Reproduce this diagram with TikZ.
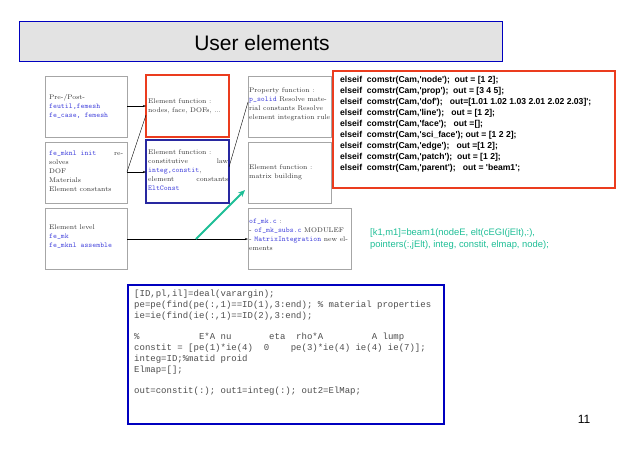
\documentclass[tikz,border=0pt]{standalone}
\usepackage{fontspec}
\newfontfamily\sansf{Liberation Sans}
\newfontfamily\monof{Liberation Mono}
\usetikzlibrary{arrows.meta}
\definecolor{codeblue}{RGB}{70,70,220}
\definecolor{lredc}{RGB}{235,60,30}
\definecolor{dblue}{RGB}{40,40,160}
\definecolor{greent}{RGB}{30,190,150}
\newcommand{\cb}[1]{\textcolor{codeblue}{\ttfamily\fontsize{7.4}{8}\selectfont #1}}
\tikzset{
  gbox/.style={draw=gray!70,line width=0.6pt},
  btxt/.style={anchor=north west,font=\fontsize{6.8}{9}\selectfont,text width=#1,align=justify,inner sep=0pt,text=black!80},
  conn/.style={-{Stealth[length=3pt,width=2pt]},line width=0.4pt},
}
\begin{document}
\begin{tikzpicture}[x=1pt,y=-1pt]
\useasboundingbox (0,0) rectangle (638,451);
% title
\node[draw=blue!75!black,line width=1.2pt,fill=gray!22,minimum width=483pt,minimum height=40pt,inner sep=0pt] (title) at (261,41.5) {};
\node (tt) at (262,43) {\sansf\fontsize{21}{24}\selectfont User elements};
% left boxes
\draw[gbox] (45,76) rectangle (127,137);
\node[btxt=76pt] (a) at (49,94) {Pre-/Post-\\\cb{feutil,femesh}\\\cb{fe\_case, femesh}};
\coordinate (aR) at (127,106);
\draw[gbox] (45,142) rectangle (127,203);
\node[btxt=74pt] (b) at (49,151) {\cb{fe\_mknl init} \hfill re-\\solves\\DOF\\Materials\\Element constants};
\coordinate (bR) at (127,172);
\draw[gbox] (45,208) rectangle (127,269);
\node[btxt=76pt] (c) at (49,225) {Element level\\\cb{fe\_mk}\\\cb{fe\_mknl assemble}};
\coordinate (cR) at (127,239);
% middle boxes
\draw[draw=lredc,line width=1.6pt] (146,75) rectangle (229,137);
\node[btxt=80pt] (r) at (148,99) {Element function :\\nodes, face, DOFs, ...};
\coordinate (rL) at (146,106);
\coordinate (rL2) at (146,115);
\draw[draw=dblue,line width=1.6pt] (146,140) rectangle (229,203);
\node[btxt=80pt] (bl) at (148,150) {Element function :\\constitutive \hfill law\\\cb{integ,constit},\\element \hfill constants\\\cb{EltConst}};
\coordinate (blL) at (146,172);
\coordinate (blR) at (229,167);
% right boxes
\draw[gbox] (248,76) rectangle (331,137);
\node[btxt=81pt] (p) at (249,88) {Property function :\\\cb{p\_solid} Resolve mate-\\rial constants Resolve\\element integration rule};
\coordinate (pL) at (248,102);
\draw[gbox] (248,142) rectangle (331,203);
\node[btxt=80pt] (m) at (249,165) {Element function :\\matrix building};
\coordinate (mL) at (245,190);
\draw[gbox] (248,208) rectangle (351,269);
\node[btxt=100pt] (o) at (249,219) {\cb{of\_mk.c} :\\- \cb{of\_mk\_subs.c} MODULEF\\- \cb{MatrixIntegration} new el-\\ements};
\coordinate (oL) at (248,239);
% connectors
\draw[conn] (aR) -- (rL);
\draw[conn] (bR) -- (blL);
\draw[line width=0.4pt] (bR) -- (rL2);
\draw[line width=0.4pt] (blR) -- (pL);
\draw[conn] (cR) -- (oL);
\coordinate (gS) at (196,239);
\draw[-{Stealth[length=7pt,width=6pt]},draw=greent,line width=1.8pt] (gS) -- (mL);
% code box red
\node[draw=lredc,line width=1.6pt,fill=white,minimum width=282pt,minimum height=117pt,inner sep=0pt] (cam) at (474,129.5) {};
\node[anchor=north west,inner sep=0pt,font=\sansf\bfseries\fontsize{8.6}{10.9}\selectfont] (camt) at (340,75)
{\begin{tabular}{@{}l@{}}
elseif\ \ comstr(Cam,'node');\ \ out = [1 2];\\
elseif\ \ comstr(Cam,'prop');\ \ out = [3 4 5];\\
elseif\ \ comstr(Cam,'dof');\ \ \ out=[1.01 1.02 1.03 2.01 2.02 2.03]';\\
elseif\ \ comstr(Cam,'line');\ \ \ out = [1 2];\\
elseif\ \ comstr(Cam,'face');\ \ \ out =[];\\
elseif\ \ comstr(Cam,'sci\_face'); out = [1 2 2];\\
elseif\ \ comstr(Cam,'edge');\ \ \ out =[1 2];\\
elseif\ \ comstr(Cam,'patch');\ \ out = [1 2];\\
elseif\ \ comstr(Cam,'parent');\ \ \ out = 'beam1';
\end{tabular}};
% green text
\node[anchor=north west,inner sep=0pt,text=greent,font=\sansf\fontsize{9.4}{12}\selectfont,align=left] (gt) at (370,228)
{[k1,m1]=beam1(nodeE, elt(cEGI(jElt),:),\\pointers(:,jElt), integ, constit, elmap, node);};
% code
\node[draw=blue!75!black,line width=1.2pt,minimum width=316pt,minimum height=139pt,inner sep=0pt] (code) at (286,354.5) {};
\node[anchor=north west,inner sep=0pt,text=gray!60!black,font=\monof\fontsize{9}{10.8}\selectfont,align=left] (ct) at (134,290)
{[ID,pl,il]=deal(varargin);\\
pe=pe(find(pe(:,1)==ID(1),3:end); \% material properties\\
ie=ie(find(ie(:,1)==ID(2),3:end);\\[10.8pt]
\%\ \ \ \ \ \ \ \ \ \ \ E*A nu\ \ \ \ \ \ \ eta\ \ rho*A\ \ \ \ \ \ \ \ \ A lump\\
constit = [pe(1)*ie(4)\ \ 0\ \ \ \ pe(3)*ie(4) ie(4) ie(7)];\\
integ=ID;\%matid proid\\
Elmap=[];\\[10.8pt]
out=constit(:); out1=integ(:); out2=ElMap;};
\node (pg) at (584,419) {\sansf\fontsize{12}{14}\selectfont 11};
\end{tikzpicture}
\end{document}
